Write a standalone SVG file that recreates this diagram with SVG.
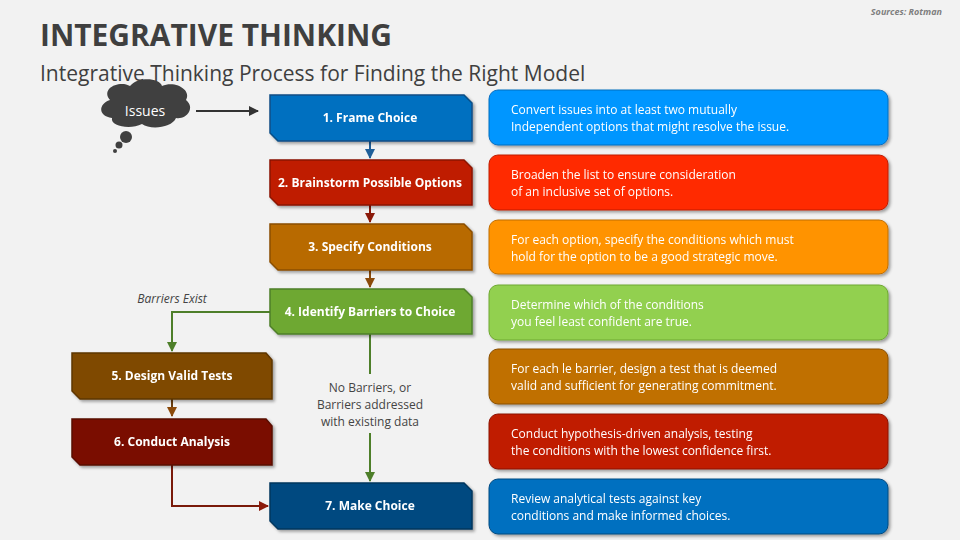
<svg xmlns="http://www.w3.org/2000/svg" width="960" height="540" viewBox="0 0 960 540">
<style>
text{font-family:"Open Sans","Liberation Sans",sans-serif}
.bt{font-size:12px;font-weight:bold;fill:#fff;text-anchor:middle}
.dt{font-size:12px;fill:#fff}
.lb{font-size:12px;fill:#444}
.c{fill:none;stroke-width:2}
</style>
<defs>
<filter id="sh" x="-5%" y="-5%" width="115%" height="130%"><feDropShadow dx="2" dy="2" stdDeviation="1.5" flood-opacity="0.35"/></filter>
<marker id="ab" viewBox="0 0 10 10" refX="9" refY="5" markerWidth="5" markerHeight="5" orient="auto"><path d="M0,0L10,5L0,10z" fill="#1F5F99"/></marker>
<marker id="ar" viewBox="0 0 10 10" refX="9" refY="5" markerWidth="5" markerHeight="5" orient="auto"><path d="M0,0L10,5L0,10z" fill="#8B1A0A"/></marker>
<marker id="ao" viewBox="0 0 10 10" refX="9" refY="5" markerWidth="5" markerHeight="5" orient="auto"><path d="M0,0L10,5L0,10z" fill="#8B4A0A"/></marker>
<marker id="ag" viewBox="0 0 10 10" refX="9" refY="5" markerWidth="5" markerHeight="5" orient="auto"><path d="M0,0L10,5L0,10z" fill="#4E7F2A"/></marker>
<marker id="ak" viewBox="0 0 10 10" refX="9" refY="5" markerWidth="5" markerHeight="5" orient="auto"><path d="M0,0L10,5L0,10z" fill="#333"/></marker>
</defs>
<rect width="960" height="540" fill="#F2F2F2"/>
<text x="40" y="46" font-size="30" font-weight="bold" fill="#3F3F3F" textLength="352" lengthAdjust="spacingAndGlyphs">INTEGRATIVE THINKING</text>
<text x="40" y="81" font-size="21" fill="#3F3F3F">Integrative Thinking Process for Finding the Right Model</text>
<text x="942" y="15" font-size="9" font-style="italic" font-weight="bold" fill="#7F7F7F" text-anchor="end">Sources: Rotman</text>

<g id="issues">
<path d="M110,100 C100,88 120,80 130,86 C138,76 160,78 162,86 C175,80 192,90 186,100 C196,108 186,120 176,118 C172,128 150,130 142,124 C130,130 110,126 112,118 C98,116 98,104 110,100z" fill="#404040"/>
<circle cx="126" cy="137" r="6" fill="#404040"/>
<circle cx="119" cy="145" r="3.5" fill="#404040"/>
<circle cx="115" cy="151" r="2" fill="#404040"/>
<text x="145" y="116" font-size="14" fill="#fff" text-anchor="middle">Issues</text>
</g>

<g id="connectors">
<path class="c" d="M196,111H258" stroke="#333" stroke-width="1.5" marker-end="url(#ak)"/>
<path class="c" d="M370,141V158" stroke="#1F5F99" marker-end="url(#ab)"/>
<path class="c" d="M370,205V222" stroke="#8B1A0A" marker-end="url(#ar)"/>
<path class="c" d="M370,270V287" stroke="#8B4A0A" marker-end="url(#ao)"/>
<path class="c" d="M270,312H172V351" stroke="#4E7F2A" marker-end="url(#ag)"/>
<path class="c" d="M370,334V374" stroke="#4E7F2A"/>
<path class="c" d="M370,433V481" stroke="#4E7F2A" marker-end="url(#ag)"/>
<path class="c" d="M172,398V416" stroke="#6B3F10" marker-end="url(#ao)"/>
<path class="c" d="M172,465V506H268" stroke="#7A1A0A" marker-end="url(#ar)"/>
</g>
<text x="172" y="303" class="lb" font-style="italic" text-anchor="middle">Barriers Exist</text>
<text class="lb" text-anchor="middle"><tspan x="370" y="392">No Barriers, or</tspan><tspan x="370" y="409">Barriers addressed</tspan><tspan x="370" y="426">with existing data</tspan></text>

<g id="n1" filter="url(#sh)"><path d="M270,95H464L472,103V141H278L270,133z" fill="#0070C0" stroke="#0A4E85" stroke-width="1.5"/><text x="370" y="122" class="bt">1. Frame Choice</text></g>
<g id="n2" filter="url(#sh)"><path d="M270,160H464L472,168V205H278L270,197z" fill="#BF1E00" stroke="#8B1200" stroke-width="1.5"/><text x="370" y="187" class="bt">2. Brainstorm Possible Options</text></g>
<g id="n3" filter="url(#sh)"><path d="M270,224H464L472,232V270H278L270,262z" fill="#B86A00" stroke="#8A4E00" stroke-width="1.5"/><text x="370" y="251" class="bt">3. Specify Conditions</text></g>
<g id="n4" filter="url(#sh)"><path d="M270,289H464L472,297V334H278L270,326z" fill="#6EA830" stroke="#4E7F2A" stroke-width="1.5"/><text x="370" y="316" class="bt">4. Identify Barriers to Choice</text></g>
<g id="n5" filter="url(#sh)"><path d="M72,353H266L272,360V399H80L72,391z" fill="#7F4A00" stroke="#5E3600" stroke-width="1.5"/><text x="172" y="380" class="bt">5. Design Valid Tests</text></g>
<g id="n6" filter="url(#sh)"><path d="M72,419H266L272,426V465H80L72,457z" fill="#7A1000" stroke="#5A0C00" stroke-width="1.5"/><text x="172" y="446" class="bt">6. Conduct Analysis</text></g>
<g id="n7" filter="url(#sh)"><path d="M270,483H464L472,491V529H278L270,521z" fill="#004A80" stroke="#00365E" stroke-width="1.5"/><text x="370" y="510" class="bt">7. Make Choice</text></g>

<g id="d1" filter="url(#sh)"><rect x="489" y="90" width="399" height="55" rx="9" fill="#0096FF" stroke="#0A6EBF"/><text class="dt"><tspan x="511" y="114">Convert issues into at least two mutually</tspan><tspan x="511" y="131">Independent options that might resolve the issue.</tspan></text></g>
<g id="d2" filter="url(#sh)"><rect x="489" y="155" width="399" height="55" rx="9" fill="#FF2A00" stroke="#BF1E00"/><text class="dt"><tspan x="511" y="179">Broaden the list to ensure consideration</tspan><tspan x="511" y="196">of an inclusive set of options.</tspan></text></g>
<g id="d3" filter="url(#sh)"><rect x="489" y="220" width="399" height="54" rx="9" fill="#FF9300" stroke="#BF6E00"/><text class="dt"><tspan x="511" y="244">For each option, specify the conditions which must</tspan><tspan x="511" y="261">hold for the option to be a good strategic move.</tspan></text></g>
<g id="d4" filter="url(#sh)"><rect x="489" y="285" width="399" height="55" rx="9" fill="#92D050" stroke="#6EA830"/><text class="dt"><tspan x="511" y="309">Determine which of the conditions</tspan><tspan x="511" y="326">you feel least confident are true.</tspan></text></g>
<g id="d5" filter="url(#sh)"><rect x="489" y="349" width="399" height="55" rx="9" fill="#C07000" stroke="#8A5000"/><text class="dt"><tspan x="511" y="373">For each le barrier, design a test that is deemed</tspan><tspan x="511" y="390">valid and sufficient for generating commitment.</tspan></text></g>
<g id="d6" filter="url(#sh)"><rect x="489" y="414" width="399" height="55" rx="9" fill="#C01A00" stroke="#8B1200"/><text class="dt"><tspan x="511" y="438">Conduct hypothesis-driven analysis, testing</tspan><tspan x="511" y="455">the conditions with the lowest confidence first.</tspan></text></g>
<g id="d7" filter="url(#sh)"><rect x="489" y="479" width="399" height="55" rx="9" fill="#0070C0" stroke="#004A80"/><text class="dt"><tspan x="511" y="503">Review analytical tests against key</tspan><tspan x="511" y="520">conditions and make informed choices.</tspan></text></g>
</svg>
